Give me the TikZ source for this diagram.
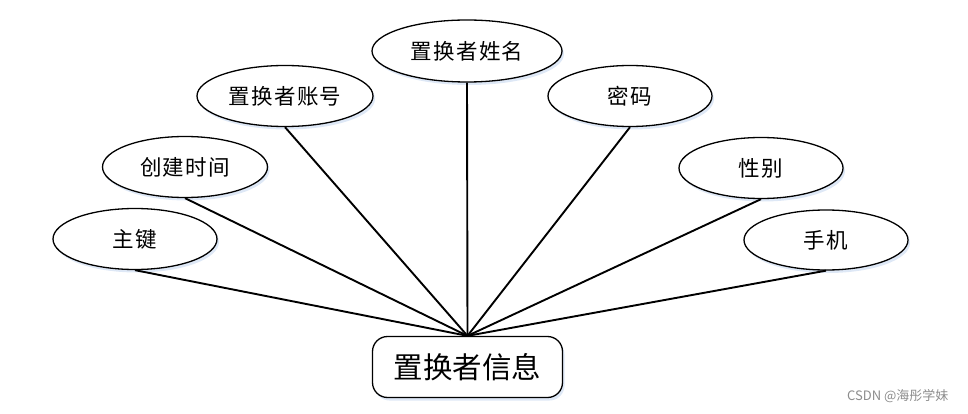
\documentclass[tikz,border=0pt]{standalone}
\usepackage{fontspec}
\newfontfamily\cjk{Noto Sans CJK SC}[LetterSpace=6]
\newfontfamily\cjkm{Noto Sans CJK SC}
\usetikzlibrary{shapes.geometric,shadows}
\definecolor{glow}{RGB}{222,232,246}
\tikzset{
  attr/.style={ellipse, draw=black, line width=1.3pt, fill=white, inner sep=0pt,
    minimum height=61pt, font=\cjk\fontsize{21.5}{24}\selectfont,
    drop shadow={shadow xshift=2pt, shadow yshift=-3pt, fill=glow, opacity=1}},
  entity/.style={rectangle, rounded corners=15pt, draw=black, line width=1.3pt, fill=white,
    inner sep=0pt, minimum width=190pt, minimum height=61pt,
    font=\cjkm\fontsize{29.5}{32}\selectfont,
    drop shadow={shadow xshift=2pt, shadow yshift=-3pt, fill=glow, opacity=1}},
  link/.style={line width=1.9pt, black}
}
\begin{document}
\begin{tikzpicture}[x=1pt,y=-1pt]
\useasboundingbox (0,0) rectangle (968,414);
\node[attr, minimum width=164pt] (pk) at (135,239) {主键};
\node[attr, minimum width=165pt] (ct) at (185,167) {创建时间};
\node[attr, minimum width=176pt] (acc) at (285,96) {置换者账号};
\node[attr, minimum width=190pt, minimum height=62pt] (nm) at (467,51) {置换者姓名};
\node[attr, minimum width=164pt] (pw) at (630,96) {密码};
\node[attr, minimum width=164pt] (sex) at (761,168) {性别};
\node[attr, minimum width=164pt, minimum height=60pt] (ph) at (826,240) {手机};
\node[entity] (main) at (467.5,367) {置换者信息};
\foreach \n in {pk,ct,acc,nm,pw,sex,ph}{
  \draw[link] (\n.south) -- (main.north);
}
\node[anchor=east, text=black!45, font=\cjkm\fontsize{13}{15}\selectfont] (wm) at (952,396) {CSDN @海彤学妹};
\end{tikzpicture}
\end{document}
